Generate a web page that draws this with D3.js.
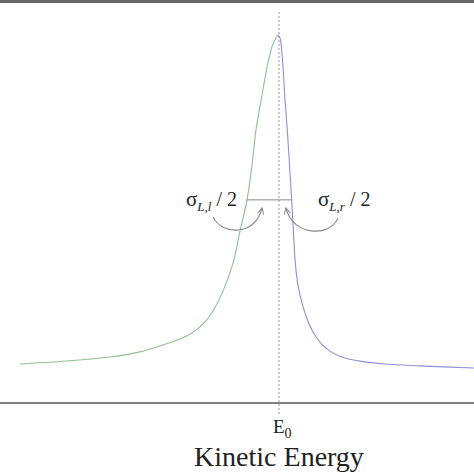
<!DOCTYPE html>
<html><head><meta charset="utf-8">
<script src="https://cdn.jsdelivr.net/npm/d3@7"></script>
<style>html,body{margin:0;padding:0;background:#fff;}svg{display:block;}</style>
</head><body>
<svg id="c" width="474" height="474"></svg>
<script>
// Energy relative to E0 (arbitrary units) and normalized intensity
const leftE = [-25.9,-21.2,-16.9,-13.9,-11.9,-9.9,-8.7,-7.6,-6.6,-5.6,-4.6,-3.9,-3.2,-2.7,-2.3,-1.7,-1.1,-0.6,-0.1];
const leftI = [0.106,0.114,0.125,0.139,0.155,0.174,0.190,0.215,0.250,0.304,0.380,0.467,0.552,0.647,0.742,0.837,0.924,0.976,1.0];
const rightE = [-0.1,0.1,0.37,0.6,0.83,1.05,1.27,1.43,1.63,1.83,2.1,2.5,2.93,3.5,4.27,5.1,6.27,8.27,10.6,14.1,19.5];
const rightI = [1.0,0.992,0.924,0.823,0.742,0.647,0.552,0.470,0.380,0.332,0.293,0.253,0.220,0.188,0.160,0.141,0.125,0.113,0.106,0.101,0.095];
const E0 = 0;
const halfE = [-3.2, 1.27];
const halfI = 0.552;
const xTickLabel = "E";
const xTickSub = "0";
const xTitle = "Kinetic Energy";

const svg = d3.select("#c");
const x = d3.scaleLinear().domain([-27.9, 19.5]).range([0, 474]);
const y = d3.scaleLinear().domain([0, 1]).range([403, 35]);

// top border
svg.append("line").attr("x1",0).attr("x2",474).attr("y1",1.5).attr("y2",1.5)
  .attr("stroke","#666").attr("stroke-width",3);

// dashed E0 line
svg.append("line").attr("x1",x(E0)).attr("x2",x(E0)).attr("y1",12).attr("y2",415)
  .attr("stroke","#999").attr("stroke-width",1).attr("stroke-dasharray","2,2");

// axis line
svg.append("line").attr("x1",0).attr("x2",474).attr("y1",y(0)).attr("y2",y(0))
  .attr("stroke","#555").attr("stroke-width",1.5);

const line = d3.line().x(d=>x(d[0])).y(d=>y(d[1])).curve(d3.curveCatmullRom.alpha(0.5));
svg.append("path").datum(leftE.map((e,i)=>[e,leftI[i]]))
  .attr("d",line).attr("fill","none").attr("stroke","#90c090").attr("stroke-width",1.1);
svg.append("path").datum(rightE.map((e,i)=>[e,rightI[i]]))
  .attr("d",line).attr("fill","none").attr("stroke","#8f8fdc").attr("stroke-width",1.1);

// half width line
svg.append("line").attr("x1",x(halfE[0])).attr("x2",x(halfE[1])).attr("y1",y(halfI)).attr("y2",y(halfI))
  .attr("stroke","#888").attr("stroke-width",1);

// arrow markers
const defs = svg.append("defs");
defs.append("marker").attr("id","ah").attr("viewBox","0 0 10 10").attr("refX",9).attr("refY",5)
  .attr("markerWidth",7).attr("markerHeight",7).attr("orient","auto")
  .append("path").attr("d","M1,1 L9,5 L1,9").attr("fill","none").attr("stroke","#888").attr("stroke-width",1.3);

const hy = y(halfI);
svg.append("path").attr("d",`M213,${hy+17} C222,${hy+36} 256,${hy+36} 262,${hy+8}`)
  .attr("fill","none").attr("stroke","#888").attr("stroke-width",1.1).attr("marker-end","url(#ah)");
svg.append("path").attr("d",`M338,${hy+18} C330,${hy+38} 292,${hy+36} 286,${hy+8}`)
  .attr("fill","none").attr("stroke","#888").attr("stroke-width",1.1).attr("marker-end","url(#ah)");

const ff = "'Liberation Serif','Times New Roman',serif";
function sigmaLabel(xPos, sub){
  const t = svg.append("text").attr("x",xPos).attr("y",hy+6).attr("font-family",ff)
    .attr("fill","#222").attr("font-size",21);
  t.append("tspan").text("σ");
  t.append("tspan").attr("font-size",13).attr("font-style","italic").attr("dy",5).text(sub);
  t.append("tspan").attr("dy",-5).attr("font-size",20).text(" / 2");
}
sigmaLabel(186, "L,l");
sigmaLabel(318, "L,r");

// tick label E0
const tl = svg.append("text").attr("x",x(E0)-6).attr("y",433).attr("font-family",ff)
  .attr("fill","#222").attr("font-size",19);
tl.append("tspan").text(xTickLabel);
tl.append("tspan").attr("font-size",14).attr("dy",5).text(xTickSub);

svg.append("text").attr("x",x(E0)).attr("y",466).attr("text-anchor","middle")
  .attr("font-family",ff).attr("font-size",28).attr("fill","#222").text(xTitle);
</script>
</body></html>
